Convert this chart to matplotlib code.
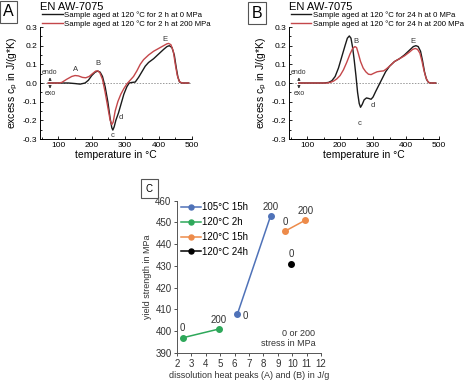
import matplotlib
matplotlib.use("Agg")
import matplotlib.pyplot as plt
from matplotlib.ticker import MultipleLocator
from matplotlib.lines import Line2D

plt.rcParams['font.family'] = ['Liberation Sans', 'DejaVu Sans']

# ---------------- Data ----------------
# Panel A (120 °C, 2 h)
tA_0 = [70, 100, 130, 150, 165, 180, 190, 200, 210, 218, 225, 232, 240, 248, 255, 260, 263, 267, 272,
        280, 288, 296, 305, 312, 320, 330, 340, 350, 360, 370, 385, 400, 415, 425, 432, 440, 447, 453,
        458, 463, 470, 490]
cA_0 = [0, 0, 0, -0.003, -0.006, 0.0, 0.015, 0.04, 0.058, 0.064, 0.058, 0.035, -0.02, -0.1, -0.19,
        -0.24, -0.252, -0.235, -0.2, -0.16, -0.11, -0.06, -0.02, 0.0, 0.003, 0.005, 0.03, 0.06, 0.09,
        0.11, 0.13, 0.155, 0.18, 0.195, 0.2, 0.19, 0.15, 0.08, 0.03, 0.005, 0, 0]
tA_200 = [70, 100, 110, 125, 140, 150, 160, 172, 182, 192, 202, 212, 218, 224, 232, 240, 248, 255, 260,
          264, 270, 278, 287, 296, 305, 315, 325, 335, 345, 355, 370, 385, 400, 415, 425, 430, 437, 444,
          450, 456, 462, 470, 490]
cA_200 = [0, 0, 0.003, 0.02, 0.035, 0.04, 0.038, 0.03, 0.028, 0.035, 0.05, 0.064, 0.065, 0.055, 0.02,
          -0.05, -0.13, -0.2, -0.223, -0.21, -0.15, -0.1, -0.06, -0.03, -0.005, 0.015, 0.035, 0.065,
          0.1, 0.125, 0.15, 0.17, 0.185, 0.2, 0.21, 0.212, 0.205, 0.17, 0.1, 0.04, 0.008, 0, 0]

# Panel B (120 °C, 24 h)
tB_0 = [75, 150, 165, 175, 185, 195, 205, 215, 222, 228, 233, 238, 243, 248, 253, 258, 262, 267, 273,
        280, 287, 294, 300, 308, 318, 328, 338, 350, 365, 380, 395, 410, 422, 430, 437, 444, 450, 456,
        462, 468, 475, 490]
cB_0 = [0, 0, 0.003, 0.012, 0.035, 0.08, 0.14, 0.2, 0.24, 0.252, 0.24, 0.19, 0.12, 0.04, -0.05, -0.11,
        -0.13, -0.115, -0.09, -0.08, -0.083, -0.087, -0.075, -0.045, -0.01, 0.025, 0.06, 0.09, 0.115,
        0.13, 0.15, 0.175, 0.195, 0.2, 0.195, 0.17, 0.12, 0.06, 0.02, 0.003, 0, 0]
tB_200 = [75, 160, 170, 180, 190, 200, 210, 220, 230, 238, 245, 250, 255, 262, 270, 278, 286, 294, 302,
          312, 322, 332, 340, 350, 365, 380, 395, 410, 420, 428, 435, 442, 448, 454, 460, 466, 472, 490]
cB_200 = [0, 0, 0.003, 0.01, 0.022, 0.04, 0.07, 0.11, 0.155, 0.185, 0.195, 0.19, 0.16, 0.115, 0.08,
          0.06, 0.047, 0.045, 0.052, 0.06, 0.063, 0.065, 0.075, 0.09, 0.115, 0.13, 0.145, 0.165, 0.18,
          0.185, 0.18, 0.16, 0.12, 0.07, 0.03, 0.008, 0, 0]

legend_A = ["Sample aged at 120 °C for 2 h at 0 MPa", "Sample aged at 120 °C for 2 h at 200 MPa"]
legend_B = ["Sample aged at 120 °C for 24 h at 0 MPa", "Sample aged at 120 °C for 24 h at 200 MPa"]

# Panel C
c_series = ["105°C 15h", "120°C 2h", "120°C 15h", "120°C 24h"]
c_x = [[6.2, 8.5], [2.4, 4.9], [9.5, 10.9], [9.95]]
c_y = [[408, 453], [397, 401], [446, 451], [431]]
c_lbl = [["0", "200"], ["0", "200"], ["0", "200"], ["0"]]
c_colors = ["#4F72B8", "#2EA85A", "#ED8B4A", "#000000"]

black = "#1a1a1a"
red = "#c4474a"

fig = plt.figure(figsize=(4.74, 3.88), dpi=100)
W, H = 474, 388


def rect(l, r, t, b):
    return [l / W, 1 - b / H, (r - l) / W, (b - t) / H]


def dsc_axes(ax, t0, c0, t2, c2, legend_labels):
    ax.plot(t0, c0, color=black, lw=1.0, zorder=3)
    ax.plot(t2, c2, color=red, lw=1.0, zorder=4)
    ax.axhline(0, color="#999999", lw=0.7, ls=(0, (1.5, 1.5)), zorder=1)
    ax.set_xlim(45, 500)
    ax.set_ylim(-0.3, 0.3)
    ax.xaxis.set_major_locator(MultipleLocator(100))
    ax.xaxis.set_minor_locator(MultipleLocator(50))
    ax.yaxis.set_major_locator(MultipleLocator(0.1))
    ax.yaxis.set_minor_locator(MultipleLocator(0.05))
    ax.yaxis.set_major_formatter(matplotlib.ticker.FuncFormatter(
        lambda v, p: f"{v:.1f}".replace("-0.0", "0.0")))
    ax.tick_params(which="both", direction="in", labelsize=6, length=2.5, width=0.6, pad=2)
    ax.tick_params(which="minor", length=1.5)
    for s in ["top", "right"]:
        ax.spines[s].set_visible(False)
    for s in ["left", "bottom"]:
        ax.spines[s].set_linewidth(0.7)
    ax.set_xlabel("temperature in °C", fontsize=7.5, labelpad=1)
    ax.set_ylabel("excess c$_\\mathrm{p}$ in J/(g*K)", fontsize=7.5, labelpad=2)
    handles = [Line2D([], [], color=black, lw=1.0), Line2D([], [], color=red, lw=1.0)]
    ax.legend(handles, legend_labels, loc="upper left", bbox_to_anchor=(0.015, 1.14), frameon=False,
              fontsize=5.6, handlelength=2.6, handletextpad=0.25, labelspacing=0.15, borderaxespad=0,
              borderpad=0)
    ax.text(0, 1.18, "EN AW-7075", transform=ax.transAxes, fontsize=8, ha="left", va="center")
    # endo / exo
    ax.text(75, 0.055, "endo", fontsize=5, ha="center", va="center", color="#333333")
    ax.text(75, -0.055, "exo", fontsize=5, ha="center", va="center", color="#333333")
    ax.annotate("", xy=(75, 0.03), xytext=(75, 0.005),
                arrowprops=dict(arrowstyle="-|>", color="#333333", lw=0.6, mutation_scale=4))
    ax.annotate("", xy=(75, -0.03), xytext=(75, -0.005),
                arrowprops=dict(arrowstyle="-|>", color="#333333", lw=0.6, mutation_scale=4))


axA = fig.add_axes(rect(40, 192, 27, 139))
dsc_axes(axA, tA_0, cA_0, tA_200, cA_200, legend_A)
for txt, x, y in [("A", 150, 0.07), ("B", 217, 0.105), ("c", 262, -0.283), ("d", 287, -0.183), ("E", 420, 0.233)]:
    axA.text(x, y, txt, fontsize=5.5, ha="center", va="center", color="#333333")

axB = fig.add_axes(rect(289, 439, 27, 139))
dsc_axes(axB, tB_0, cB_0, tB_200, cB_200, legend_B)
for txt, x, y in [("B", 248, 0.225), ("c", 258, -0.215), ("d", 298, -0.12), ("E", 420, 0.225)]:
    axB.text(x, y, txt, fontsize=5.5, ha="center", va="center", color="#333333")

# Panel labels
for lab, x, y in [("A", 8.5, 12), ("B", 257, 13)]:
    fig.text(x / W, 1 - y / H, lab, fontsize=11.5, ha="center", va="center",
             bbox=dict(boxstyle="square,pad=0.2", fc="white", ec="#555555", lw=0.8))

# Panel C
axC = fig.add_axes(rect(177, 321, 200.7, 353))
for name, xs, ys, labs, col in zip(c_series, c_x, c_y, c_lbl, c_colors):
    axC.plot(xs, ys, "-o", color=col, lw=1.1, ms=4, label=name)
    for x, y, l in zip(xs, ys, labs):
        if name == "105°C 15h" and l == "0":
            axC.text(x + 0.35, y - 0.8, l, fontsize=7, ha="left", va="center", color="#333333")
        else:
            axC.text(x, y + 2.0, l, fontsize=7, ha="center", va="bottom", color="#333333")
axC.set_xlim(2, 12)
axC.set_ylim(390, 460)
axC.xaxis.set_major_locator(MultipleLocator(1))
axC.yaxis.set_major_locator(MultipleLocator(10))
axC.tick_params(direction="out", labelsize=7, length=2.5, width=0.6, pad=1.5, colors="#333333")
for s in ["top", "right"]:
    axC.spines[s].set_visible(False)
for s in ["left", "bottom"]:
    axC.spines[s].set_linewidth(0.7)
    axC.spines[s].set_color("#555555")
axC.set_xlabel("dissolution heat peaks (A) and (B) in J/g", fontsize=6.5, labelpad=2, color="#333333")
axC.set_ylabel("yield strength in MPa", fontsize=6.5, labelpad=2, color="#333333")
axC.legend(loc="upper left", bbox_to_anchor=(0.03, 0.99), frameon=False, fontsize=7,
           handlelength=2.0, handletextpad=0.1, labelspacing=0.5, borderaxespad=0, borderpad=0,
           markerscale=0.9)
axC.text(11.6, 392.5, "0 or 200\nstress in MPa", fontsize=6.5, ha="right", va="bottom",
         color="#333333", linespacing=1.1)
fig.text(149.5 / W, 1 - 188.5 / H, "C", fontsize=7, ha="center", va="center",
         bbox=dict(boxstyle="square,pad=0.5", fc="white", ec="#555555", lw=0.8))

fig.savefig("out.png", dpi=100)
